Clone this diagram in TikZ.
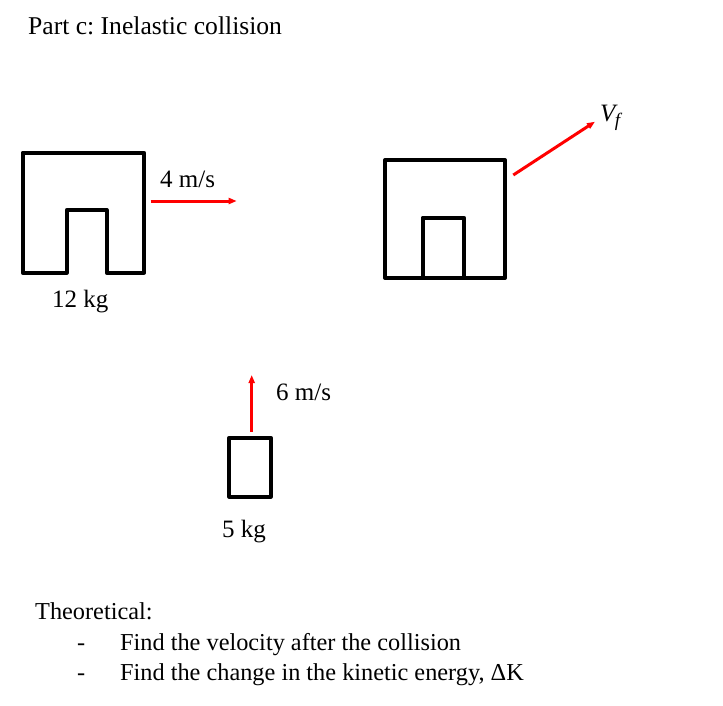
\documentclass[tikz,border=0pt]{standalone}
\usepackage{fontspec}
\setmainfont{Liberation Serif}
\usetikzlibrary{arrows.meta}
\frenchspacing
\begin{document}
\begin{tikzpicture}[x=1pt,y=-1pt,
  blockline/.style={line width=4pt,line join=round},
  velarrow/.style={red,line width=3pt,-{Triangle[length=8pt,width=6pt]}},
  lbl/.style={inner sep=0pt,anchor=base west,font=\fontsize{25}{30}\selectfont},
  txt/.style={inner sep=0pt,anchor=base west,font=\fontsize{24.3}{30}\selectfont}]
\fill[white] (0,0) rectangle (723,705);
\useasboundingbox (0,0) rectangle (723,705);
% title
\node[inner sep=0pt,anchor=base west,font=\fontsize{25.6}{30}\selectfont] (title) at (28,34) {Part c: Inelastic collision};
% left block (12 kg)
\draw[blockline] (66.7,272.7) -- (22.7,272.7) -- (22.7,152.7) -- (144,152.7) -- (144,272.7) -- (106.7,272.7) -- (106.7,210) -- (66.7,210) -- cycle;
\node[lbl] (m12) at (52,307) {12 kg};
\coordinate (a1s) at (150.7,201);
\coordinate (a1e) at (236.7,201);
\draw[velarrow] (a1s) -- (a1e);
\node[lbl] (v4) at (160,187) {4 m/s};
% right combined block
\draw[blockline] (385,160) rectangle (505,278);
\draw[blockline] (422.7,217.7) rectangle (464,278);
\coordinate (a2s) at (513.3,175);
\coordinate (a2e) at (595,121.7);
\draw[velarrow] (a2s) -- (a2e);
\node[lbl] (vf) at (600,121) {\textit{V}\kern-3pt\raisebox{-5pt}{\fontsize{19}{20}\selectfont\textit{f}}};
% small block (5 kg)
\draw[blockline] (229.3,437.7) rectangle (270.7,496.7);
\coordinate (a3s) at (251.7,431.7);
\coordinate (a3e) at (251.7,375);
\draw[velarrow] (a3s) -- (a3e);
\node[lbl] (v6) at (276,400) {6 m/s};
\node[lbl] (m5) at (222,537) {5 kg};
% bottom text
\node[txt] (theo) at (35,619.5) {Theoretical:};
\node[txt] (d1) at (77,650) {-};
\node[txt] (t1) at (120,650) {Find the velocity after the collision};
\node[txt] (d2) at (77,680) {-};
\node[txt] (t2) at (120,680) {Find the change in the kinetic energy, ΔK};
\end{tikzpicture}
\end{document}
